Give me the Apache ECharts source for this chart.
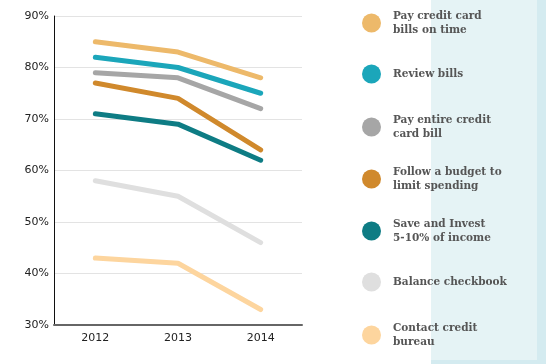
<!DOCTYPE html>
<html><head><meta charset="utf-8">
<script src="https://cdn.jsdelivr.net/npm/echarts@6/dist/echarts.min.js"></script>
<style>html,body{margin:0;padding:0;background:#fff}#c{width:546px;height:364px}</style>
</head><body><div id="c"></div>
<script>
const years = ['2012', '2013', '2014'];
const seriesNames = [
  'Pay credit card\nbills on time',
  'Review bills',
  'Pay entire credit\ncard bill',
  'Follow a budget to\nlimit spending',
  'Save and Invest\n5-10% of income',
  'Balance checkbook',
  'Contact credit\nbureau'
];
const payOnTime = [85, 83, 78];
const reviewBills = [82, 80, 75];
const payEntire = [79, 78, 72];
const followBudget = [77, 74, 64];
const saveInvest = [71, 69, 62];
const balanceCheckbook = [58, 55, 46];
const contactBureau = [43, 42, 33];
const yTicks = [30, 40, 50, 60, 70, 80, 90];

const values = [payOnTime, reviewBills, payEntire, followBudget, saveInvest, balanceCheckbook, contactBureau];
const colors = ['#EDB96A', '#1BA6BA', '#A6A6A6', '#D0892C', '#0E7C84', '#DFDFDF', '#FDD59E'];

const chart = echarts.init(document.getElementById('c'));
const legendFont = '"DejaVu Serif", serif';
const legends = seriesNames.map((n, i) => {
  const lines = n.split('\n').length;
  const c = 22 + i * 52;
  const h = lines === 2 ? 28 : 19;
  return {
    data: [n], orient: 'vertical', left: 362, top: c - h / 2 + (lines === 2 ? 1 : 0),
    padding: 0,
    icon: 'circle', itemWidth: 19, itemHeight: 19, itemGap: 0,
    selectedMode: false,
    textStyle: { fontFamily: legendFont, fontSize: 10.5, color: '#555', lineHeight: 14, padding: [0, 0, 0, 7], fontWeight: 'bold' }
  };
});

chart.setOption({
  animation: false,
  graphic: [
    { type: 'rect', z: -10, shape: { x: 431, y: 0, width: 115, height: 364 }, style: { fill: '#d4ebf0' } },
    { type: 'rect', z: -9, shape: { x: 431, y: 0, width: 106, height: 360 }, style: { fill: '#e5f3f5' } }
  ],
  grid: { left: 54, right: 244, top: 16, bottom: 39 },
  legend: legends,
  xAxis: {
    type: 'category', data: years, boundaryGap: true,
    axisLine: { lineStyle: { color: '#666', width: 2 } },
    axisTick: { show: false },
    axisLabel: { color: '#222', fontFamily: '"DejaVu Sans", sans-serif', fontSize: 11, margin: 8 }
  },
  yAxis: {
    type: 'value', min: yTicks[0], max: yTicks[yTicks.length - 1], interval: 10,
    axisLine: { show: true, lineStyle: { color: '#111', width: 1 } },
    axisTick: { show: false },
    splitLine: { lineStyle: { color: '#e3e3e3', width: 1 } },
    axisLabel: { color: '#222', fontFamily: '"DejaVu Sans", sans-serif', fontSize: 11, margin: 5, formatter: v => v + '%' }
  },
  series: seriesNames.map((n, i) => ({
    name: n, type: 'line', data: values[i], symbol: 'none',
    itemStyle: { color: colors[i] },
    lineStyle: { color: colors[i], width: 5, cap: 'round', join: 'round' },
    z: 10 - i
  }))
});
</script></body></html>
